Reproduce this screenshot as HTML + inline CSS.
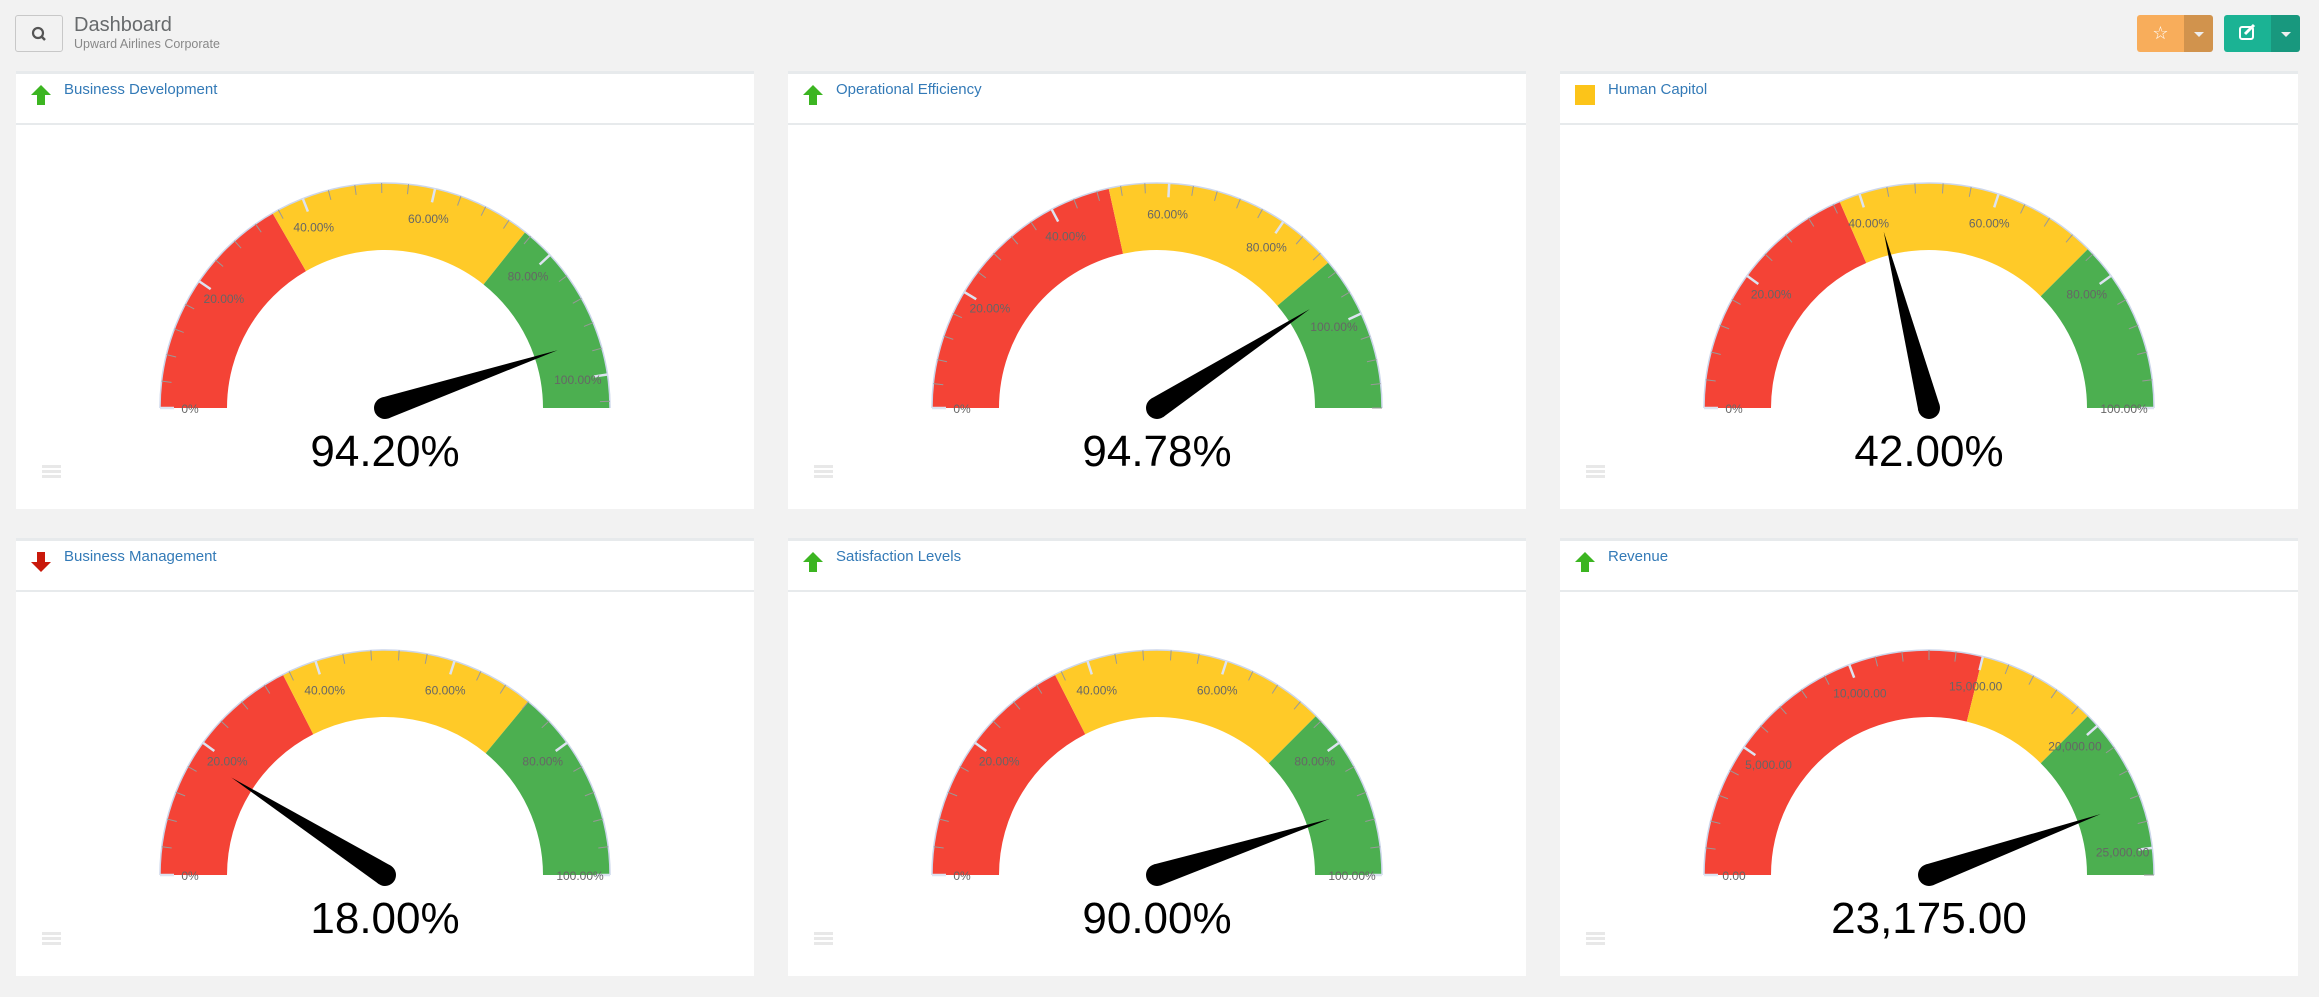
<!DOCTYPE html>
<html><head><meta charset="utf-8">
<style>
body{margin:0;width:2319px;height:997px;background:#f2f2f2;font-family:"Liberation Sans",sans-serif;position:relative;overflow:hidden}
.btn{position:absolute;box-sizing:border-box}
.panel{position:absolute;background:#fff;border-top:3px solid #e7eaec;box-sizing:border-box}
.phead{position:absolute;left:0;right:0;top:0;height:49px;border-bottom:2px solid #e7eaec}
.ptitle{position:absolute;left:48px;top:7px;font-size:15px;color:#337ab7}
.picon{position:absolute;left:15px;top:13px}
.menu{position:absolute;left:26px;width:19px;height:3px;background:#e8e8e8;box-shadow:0 5px 0 #e8e8e8,0 10px 0 #e8e8e8}
svg{position:absolute;left:0;top:0}
</style></head><body>
<div class="btn" style="left:15px;top:15px;width:48px;height:37px;border:1px solid #c8c8c8;border-radius:3px;background:#f2f2f2">
<svg width="48" height="37"><circle cx="22" cy="17" r="5" fill="none" stroke="#555" stroke-width="2.2"/><line x1="25.5" y1="20.5" x2="29" y2="24" stroke="#555" stroke-width="2.5"/></svg></div>
<div style="position:absolute;left:74px;top:14px;font-size:20px;color:#676a6c">Dashboard</div>
<div style="position:absolute;left:74px;top:37px;font-size:12.5px;color:#888">Upward Airlines Corporate</div>
<div class="btn" style="left:2137px;top:15px;width:47px;height:37px;background:#f8ad5b;border-radius:3px 0 0 3px;color:#fff;text-align:center;line-height:37px;font-size:18px">☆</div>
<div class="btn" style="left:2184px;top:15px;width:29px;height:37px;background:#d1934d;border-radius:0 3px 3px 0"><div style="position:absolute;left:10px;top:17px;border-left:5px solid transparent;border-right:5px solid transparent;border-top:5px solid #eee"></div></div>
<div class="btn" style="left:2224px;top:15px;width:47px;height:37px;background:#1bb394;border-radius:3px 0 0 3px"><svg width="47" height="37"><rect x="16" y="12" width="13" height="12" rx="2" fill="none" stroke="#fff" stroke-width="2"/><line x1="21" y1="19" x2="30" y2="10" stroke="#fff" stroke-width="3"/></svg></div>
<div class="btn" style="left:2271px;top:15px;width:29px;height:37px;background:#18987e;border-radius:0 3px 3px 0"><div style="position:absolute;left:10px;top:17px;border-left:5px solid transparent;border-right:5px solid transparent;border-top:5px solid #eee"></div></div>
<div id="root"></div>
<script>
const titles=["Business Development","Operational Efficiency","Human Capitol","Business Management","Satisfaction Levels","Revenue"];
const values=[94.2,94.78,42,18,90,23175];
const maxes=[105,116,100,100,100,26000];
const redEnds=[35,50,37,35,35,15000];
const yellowEnds=[75,90,75,72,75,19500];
const majorSteps=[20,20,20,20,20,5000];
const trends=["up","up","flat","down","up","up"];
const valueLabels=["94.20%","94.78%","42.00%","18.00%","90.00%","23,175.00"];
const panelX=[16,788,1560],panelY=[71,538];
const NS="http://www.w3.org/2000/svg";
function fmt(v,i){return i===5?v.toLocaleString("en-US",{minimumFractionDigits:2}):(v===0?"0%":v.toFixed(2)+"%");}
function mk(t,a){const e=document.createElementNS(NS,t);for(const k in a)e.setAttribute(k,a[k]);return e;}
const root=document.getElementById('root');
titles.forEach((title,i)=>{
  const p=document.createElement('div');p.className='panel';
  
  
  p.style.left=panelX[i%3]+'px';p.style.top=panelY[Math.floor(i/3)]+'px';p.style.width='738px';p.style.height='438px';
  const h=document.createElement('div');h.className='phead';
  
  
  let ic;
  if(trends[i]==='up')ic='<svg class="picon" width="22" height="22" style="left:14px;top:10px"><polygon points="11,1 21,11 15,11 15,21 7,21 7,11 1,11" fill="#3cb521"/></svg>';
  else if(trends[i]==='down')ic='<svg class="picon" width="22" height="22" style="left:14px;top:10px"><polygon points="11,21 21,11 15,11 15,1 7,1 7,11 1,11" fill="#c9190b"/></svg>';
  else ic='<svg class="picon" width="22" height="22" style="left:14px;top:10px"><rect x="1" y="1" width="20" height="20" fill="#fcc419"/></svg>';
  h.innerHTML=ic+'<div class="ptitle">'+title+'</div>';
  
  
  
  
  p.appendChild(h);
  const W=738,H=438,cx=369,cy=334,R=225,r=158;
  const s=mk('svg',{width:W,height:H});
  
  
  const ang=v=>Math.PI*(1-Math.min(Math.max(v,0),maxes[i])/maxes[i]);
  const pt=(v,rad)=>[cx+rad*Math.cos(ang(v)),cy-rad*Math.sin(ang(v))];
  const band=(a,b,col,name)=>{
    const [x1,y1]=pt(a,R),[x2,y2]=pt(b,R),[x3,y3]=pt(b,r),[x4,y4]=pt(a,r);
    const e=mk('path',{d:`M${x1},${y1}A${R},${R} 0 0 1 ${x2},${y2}L${x3},${y3}A${r},${r} 0 0 0 ${x4},${y4}Z`,fill:col});
    
    
    s.appendChild(e);
  };
  band(0,redEnds[i],'#f44336','band-red');
  band(redEnds[i],yellowEnds[i],'#ffca28','band-yellow');
  band(yellowEnds[i],maxes[i],'#4caf50','band-green');
  s.appendChild(mk('path',{d:`M${cx-R},${cy}A${R},${R} 0 0 1 ${cx+R},${cy}`,fill:'none',stroke:'#ccd6eb','stroke-width':1.5}));
  const minor=majorSteps[i]/5;
  for(let v=0;v<=maxes[i]+1e-9;v+=minor){
    const maj=Math.abs(v/majorSteps[i]-Math.round(v/majorSteps[i]))<1e-6;
    const [a1,b1]=pt(v,R),[a2,b2]=pt(v,R-(maj?14:10));
    s.appendChild(mk('line',{x1:a1,y1:b1,x2:a2,y2:b2,stroke:maj?'#dde3f0':'#999','stroke-width':maj?2.5:1}));
    if(maj){
      const [lx,ly]=pt(v,195);
      const t=mk('text',{x:lx,y:ly+5,'text-anchor':'middle','font-size':12,fill:'#666','font-family':'Liberation Sans, sans-serif'});
      t.textContent=fmt(v,i);
      
      
      s.appendChild(t);
    }
  }
  const a=ang(values[i]),L=182,w=11;
  const tx=cx+L*Math.cos(a),ty=cy-L*Math.sin(a);
  const px=Math.sin(a)*w,py=Math.cos(a)*w;
  const nd=mk('g',{});
  
  
  nd.appendChild(mk('path',{d:`M${cx+px},${cy+py}L${tx},${ty}L${cx-px},${cy-py}Z`,fill:'#000'}));
  nd.appendChild(mk('circle',{cx:cx,cy:cy,r:w,fill:'#000'}));
  s.appendChild(nd);
  const vt=mk('text',{x:cx,y:392,'text-anchor':'middle','font-size':44,fill:'#000','font-family':'Liberation Sans, sans-serif'});
  vt.textContent=valueLabels[i];
  
  
  s.appendChild(vt);
  p.appendChild(s);
  const m=document.createElement('div');m.className='menu';m.style.top='391px';
  
  
  p.appendChild(m);
  root.appendChild(p);
});
</script>
</body></html>
